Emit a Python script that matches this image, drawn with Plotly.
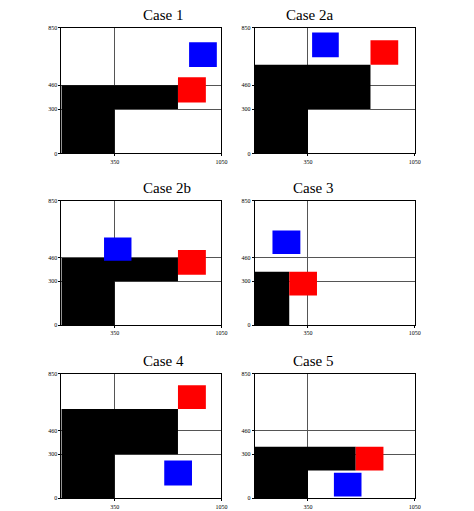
import plotly.graph_objects as go

titles = ['Case 1', 'Case 2a', 'Case 2b', 'Case 3', 'Case 4', 'Case 5']
# black region outline (x, y) for each case
black_x = [
    [0, 350, 350, 765, 765, 0],
    [0, 350, 350, 760, 760, 0],
    [0, 350, 350, 765, 765, 0],
    [0, 227, 227, 0],
    [0, 350, 350, 765, 765, 0],
    [0, 350, 350, 663, 663, 0],
]
black_y = [
    [0, 0, 300, 300, 460, 460],
    [0, 0, 300, 300, 600, 600],
    [0, 0, 300, 300, 460, 460],
    [0, 0, 365, 365],
    [0, 0, 300, 300, 608, 608],
    [0, 0, 190, 190, 351, 351],
]
# squares: x0, x1, y0, y1
red_box = [
    [765, 948, 345, 515],
    [760, 942, 600, 765],
    [765, 948, 345, 514],
    [227, 409, 203, 365],
    [765, 948, 608, 770],
    [663, 845, 190, 351],
]
blue_box = [
    [838, 1020, 584, 752],
    [377, 552, 650, 818],
    [280, 460, 440, 600],
    [117, 300, 486, 648],
    [675, 857, 88, 257],
    [520, 701, 13, 175],
]

# the page puts the figure 8px in from the corner, so domains are shifted
x_dom = [[0.114, 0.456], [0.527, 0.869]]
y_dom = [[0.718, 0.967], [0.378, 0.624], [0.035, 0.282]]

fig = go.Figure()
font = 'Liberation Serif'

for i in range(6):
    r, c = divmod(i, 2)
    n = '' if i == 0 else str(i + 1)
    xa, ya = 'x' + n, 'y' + n
    fig.add_trace(go.Scatter(x=black_x[i], y=black_y[i], fill='toself', mode='none',
                             fillcolor='black', xaxis=xa, yaxis=ya))
    for box, col in [(red_box[i], 'red'), (blue_box[i], 'blue')]:
        x0, x1, y0, y1 = box
        fig.add_trace(go.Scatter(x=[x0, x1, x1, x0], y=[y0, y0, y1, y1], fill='toself',
                                 mode='none', fillcolor=col, xaxis=xa, yaxis=ya))
    axis_common = dict(showline=True, mirror=True, linecolor='black', linewidth=1,
                       gridcolor='#555', gridwidth=0.6, zeroline=False,
                       ticks='outside', ticklen=2, tickcolor='black',
                       tickfont=dict(size=6, family=font, color='black'))
    fig.update_layout({
        'xaxis' + n: dict(domain=x_dom[c], range=[0, 1050], tickvals=[350, 1050],
                          anchor=ya, **axis_common),
        'yaxis' + n: dict(domain=y_dom[r], range=[0, 850], tickvals=[0, 300, 460, 850],
                          anchor=xa, **axis_common),
    })
    fig.add_annotation(text=titles[i], xref='paper', yref='paper',
                       x=sum(x_dom[c]) / 2, y=y_dom[r][1] + 0.005, yanchor='bottom',
                       showarrow=False, font=dict(size=15, family=font, color='black'))

fig.update_layout(width=474, height=511, margin=dict(l=0, r=0, t=0, b=0),
                  showlegend=False, plot_bgcolor='white', paper_bgcolor='white')
fig.write_html('out.html')
